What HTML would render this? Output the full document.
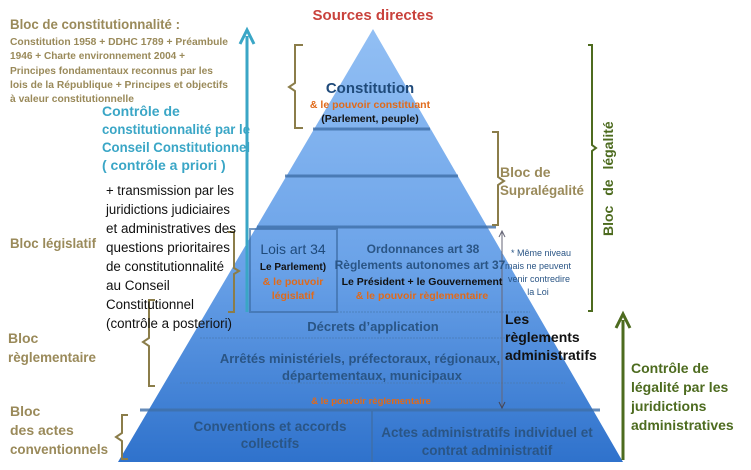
<!DOCTYPE html>
<html><head><meta charset="utf-8"><style>
html,body{margin:0;padding:0;background:#fff;width:751px;height:470px;overflow:hidden}
svg{display:block}
text{font-family:"Liberation Sans",sans-serif}
</style></head><body>
<svg width="751" height="470" viewBox="0 0 751 470">
<defs>
<linearGradient id="g" x1="0" y1="0" x2="0" y2="1">
<stop offset="0" stop-color="#92bff4"/><stop offset="0.55" stop-color="#6aa2e8"/><stop offset="1" stop-color="#2f72cc"/>
</linearGradient>
</defs>
<polygon points="373,29 118,462 623,462" fill="url(#g)"/>
<g stroke="#3f6fa8" stroke-width="3" opacity="0.8">
<line x1="313" y1="129" x2="430" y2="129"/>
<line x1="285" y1="176" x2="458" y2="176"/>
<line x1="257" y1="227" x2="496" y2="227"/>
<line x1="140" y1="410" x2="600" y2="410"/>
</g>
<g stroke="#3f6fa8" stroke-width="2" opacity="0.7">
<rect x="250" y="229" width="87" height="83" fill="none"/>
<line x1="337" y1="229" x2="337" y2="312"/>
<line x1="372" y1="411" x2="372" y2="462"/>
</g>
<g stroke="#4a7bb5" stroke-width="1" stroke-dasharray="2,1" opacity="0.8">
<line x1="337" y1="312" x2="530" y2="312"/>
<line x1="200" y1="338" x2="545" y2="338"/>
<line x1="180" y1="383" x2="565" y2="383"/>
</g>
<g fill="none" stroke="#8b7d4a" stroke-width="2">
<path d="M303,45 h-8 v38 l-6,4 l6,4 v37 h8"/>
<path d="M492,132 h6 v45 l6,4 l-6,4 v40 h-6"/>
<path d="M228,232 h6 v36 l5,3 l-5,3 v38 h-6"/>
<path d="M155,300 h-6 v38 l-6,4 l6,4 v40 h6"/>
<path d="M128,415 h-6 v18 l-6,4 l6,4 v18 h6"/>
</g>
<path d="M588,45 h4 v100 l4,3 l-4,3 v160 h-4" fill="none" stroke="#4d6b1f" stroke-width="2"/>
<line x1="247" y1="312" x2="247" y2="36" stroke="#3aa6c6" stroke-width="3"/>
<polyline points="240,44 247,30 254,44" fill="none" stroke="#3aa6c6" stroke-width="3"/>
<line x1="623" y1="460" x2="623" y2="320" stroke="#4d6b1f" stroke-width="3"/>
<polyline points="616,328 623,314 630,328" fill="none" stroke="#4d6b1f" stroke-width="3"/>
<line x1="502" y1="232" x2="502" y2="407" stroke="#667" stroke-width="1"/>
<polyline points="499,237 502,231 505,237" fill="none" stroke="#667"/>
<polyline points="499,402 502,408 505,402" fill="none" stroke="#445"/>
<text x="373" y="20" text-anchor="middle" font-size="15" font-weight="bold" fill="#c9423c">Sources directes</text>
<text x="10" y="29" font-size="14" font-weight="bold" fill="#9a8a5a" textLength="170" lengthAdjust="spacingAndGlyphs">Bloc de constitutionnalité :</text>
<g font-size="10.5" font-weight="bold" fill="#9a8a5a">
<text x="10" y="45" textLength="218" lengthAdjust="spacingAndGlyphs">Constitution 1958 + DDHC 1789 + Préambule</text>
<text x="10" y="59" textLength="175" lengthAdjust="spacingAndGlyphs">1946 + Charte environnement 2004 +</text>
<text x="10" y="74" textLength="203" lengthAdjust="spacingAndGlyphs">Principes fondamentaux reconnus par les</text>
<text x="10" y="88" textLength="218" lengthAdjust="spacingAndGlyphs">lois de la République + Principes et objectifs</text>
<text x="10" y="102" textLength="124" lengthAdjust="spacingAndGlyphs">à valeur constitutionnelle</text>
</g>
<g font-size="14" font-weight="bold" fill="#3aa6c6">
<text x="102" y="116">Contrôle de</text>
<text x="102" y="134" textLength="148" lengthAdjust="spacingAndGlyphs">constitutionnalité par le</text>
<text x="102" y="152" textLength="148" lengthAdjust="spacingAndGlyphs">Conseil Constitutionnel</text>
<text x="102" y="170">( contrôle a priori )</text>
</g>
<g font-size="13.5" fill="#111">
<text x="106" y="195" textLength="128" lengthAdjust="spacingAndGlyphs">+ transmission par les</text>
<text x="106" y="214" textLength="124" lengthAdjust="spacingAndGlyphs">juridictions judiciaires</text>
<text x="106" y="233" textLength="130" lengthAdjust="spacingAndGlyphs">et administratives des</text>
<text x="106" y="252" textLength="124" lengthAdjust="spacingAndGlyphs">questions prioritaires</text>
<text x="106" y="271" textLength="118" lengthAdjust="spacingAndGlyphs">de constitutionnalité</text>
<text x="106" y="290">au Conseil</text>
<text x="106" y="309" textLength="88" lengthAdjust="spacingAndGlyphs">Constitutionnel</text>
<text x="106" y="328" textLength="126" lengthAdjust="spacingAndGlyphs">(contrôle a posteriori)</text>
</g>
<g font-size="14" font-weight="bold" fill="#9a8a5a">
<text x="10" y="248" textLength="86" lengthAdjust="spacingAndGlyphs">Bloc législatif</text>
<text x="8" y="343">Bloc</text>
<text x="8" y="362" textLength="88" lengthAdjust="spacingAndGlyphs">règlementaire</text>
<text x="10" y="416">Bloc</text>
<text x="10" y="435">des actes</text>
<text x="10" y="454" textLength="98" lengthAdjust="spacingAndGlyphs">conventionnels</text>
<text x="500" y="177">Bloc de</text>
<text x="500" y="195" textLength="84" lengthAdjust="spacingAndGlyphs">Supralégalité</text>
</g>
<text transform="translate(613,236) rotate(-90)" font-size="14" font-weight="bold" fill="#4d6b1f" word-spacing="6">Bloc de légalité</text>
<g font-size="14" font-weight="bold" fill="#4d6b1f">
<text x="631" y="373">Contrôle de</text>
<text x="631" y="392">légalité par les</text>
<text x="631" y="411">juridictions</text>
<text x="631" y="430">administratives</text>
</g>
<text x="370" y="93" text-anchor="middle" font-size="15" font-weight="bold" fill="#1f4a7a">Constitution</text>
<text x="370" y="108" text-anchor="middle" font-size="10.5" font-weight="bold" fill="#e06a1a">&amp; le pouvoir constituant</text>
<text x="370" y="122" text-anchor="middle" font-size="10.5" font-weight="bold" fill="#111">(Parlement, peuple)</text>
<text x="293" y="254" text-anchor="middle" font-size="14" fill="#1f4a7a">Lois art 34</text>
<text x="293" y="270" text-anchor="middle" font-size="10" font-weight="bold" fill="#111">Le Parlement)</text>
<text x="293" y="285" text-anchor="middle" font-size="10.5" font-weight="bold" fill="#e06a1a">&amp; le pouvoir</text>
<text x="293" y="299" text-anchor="middle" font-size="10.5" font-weight="bold" fill="#e06a1a">législatif</text>
<text x="423" y="253" text-anchor="middle" font-size="12" font-weight="bold" fill="#2a5585">Ordonnances art 38</text>
<text x="420" y="269" text-anchor="middle" font-size="12" font-weight="bold" fill="#2a5585">Règlements autonomes art 37</text>
<text x="422" y="285" text-anchor="middle" font-size="10.5" font-weight="bold" fill="#111">Le Président + le Gouvernement</text>
<text x="422" y="299" text-anchor="middle" font-size="10.5" font-weight="bold" fill="#e06a1a">&amp; le pouvoir règlementaire</text>
<g font-size="9" fill="#2a5585" text-anchor="middle">
<text x="541" y="256">* Même niveau</text>
<text x="538" y="269">mais ne peuvent</text>
<text x="539" y="282">venir contredire</text>
<text x="538" y="295">la Loi</text>
</g>
<text x="373" y="331" text-anchor="middle" font-size="13" font-weight="bold" fill="#2a5585">Décrets d’application</text>
<text x="360" y="363" text-anchor="middle" font-size="13" font-weight="bold" fill="#2a5585">Arrêtés ministériels, préfectoraux, régionaux,</text>
<text x="372" y="380" text-anchor="middle" font-size="13" font-weight="bold" fill="#2a5585">départementaux, municipaux</text>
<text x="371" y="404" text-anchor="middle" font-size="9.5" font-weight="bold" fill="#e06a1a">&amp; le pouvoir règlementaire</text>
<g font-size="14" font-weight="bold" fill="#111">
<text x="505" y="324">Les</text>
<text x="505" y="342">règlements</text>
<text x="505" y="360">administratifs</text>
</g>
<text x="270" y="431" text-anchor="middle" font-size="13.5" font-weight="bold" fill="#2a5585">Conventions et accords</text>
<text x="270" y="448" text-anchor="middle" font-size="13.5" font-weight="bold" fill="#2a5585">collectifs</text>
<text x="487" y="437" text-anchor="middle" font-size="13.5" font-weight="bold" fill="#2a5585">Actes administratifs  individuel  et</text>
<text x="487" y="455" text-anchor="middle" font-size="13.5" font-weight="bold" fill="#2a5585">contrat administratif</text>
</svg>
</body></html>
